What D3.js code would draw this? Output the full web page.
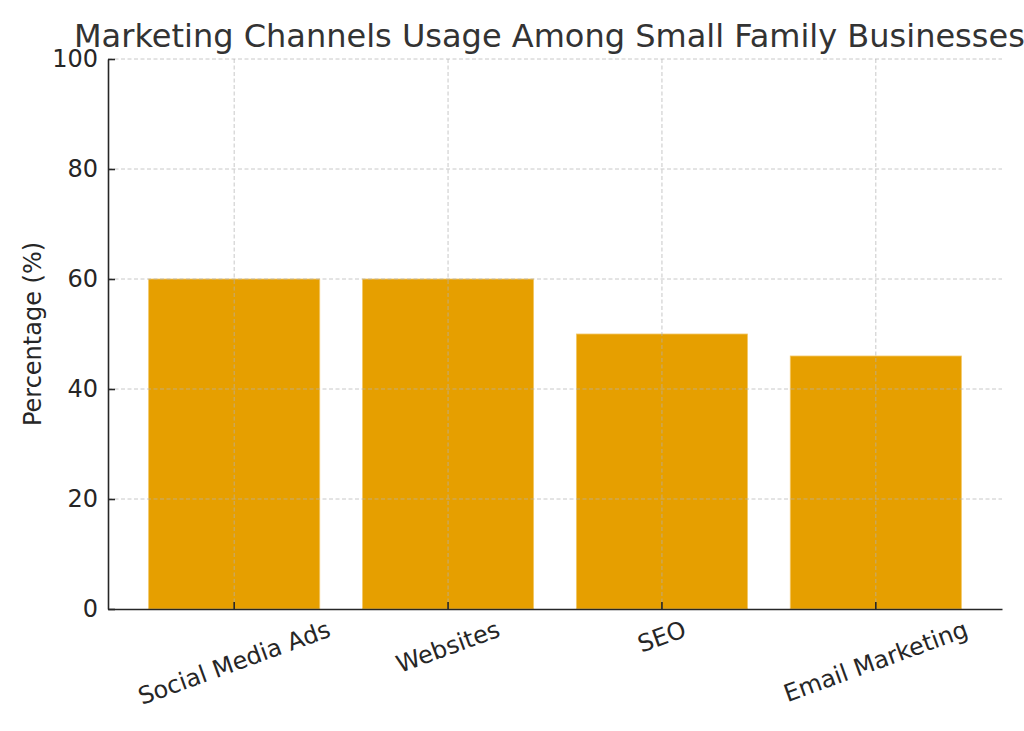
<!DOCTYPE html>
<html>
<head>
<meta charset="utf-8">
<script src="https://cdn.jsdelivr.net/npm/d3@7"></script>
<style>
  html, body { margin: 0; padding: 0; background: #fff; }
  svg { display: block; font-family: "DejaVu Sans", sans-serif; }
</style>
</head>
<body>
<svg id="chart" width="1024" height="731"></svg>
<script>
// chart data
const categories = ["Social Media Ads", "Websites", "SEO", "Email Marketing"];
const percentages = [60, 60, 50, 46];
const yTicks = [0, 20, 40, 60, 80, 100];
const titleText = "Marketing Channels Usage Among Small Family Businesses";
const yLabel = "Percentage (%)";

const width = 1024, height = 731;
const margin = { left: 108, right: 22, top: 59, bottom: 122 };
const innerW = width - margin.left - margin.right;
const innerH = height - margin.top - margin.bottom;
const fontSize = 24;

const svg = d3.select("#chart");

const x = d3.scaleBand()
    .domain(categories)
    .range([margin.left, margin.left + innerW])
    .paddingInner(0.2)
    .paddingOuter(0.19);

const y = d3.scaleLinear()
    .domain([0, 100])
    .range([margin.top + innerH, margin.top]);

// bars
svg.append("g").selectAll("rect")
    .data(categories)
    .enter()
    .append("rect")
    .attr("x", d => x(d))
    .attr("y", (d, i) => y(percentages[i]))
    .attr("width", x.bandwidth())
    .attr("height", (d, i) => y(0) - y(percentages[i]))
    .attr("fill", "#E69F00")
    .attr("stroke", "#f3c766")
    .attr("stroke-width", 0.8);

// grid (drawn over the bars, like the original)
const grid = svg.append("g")
    .attr("stroke", "#b0b0b0")
    .attr("stroke-opacity", 0.7)
    .attr("stroke-width", 1)
    .attr("stroke-dasharray", "4,2.5");

grid.selectAll("line.h")
    .data(yTicks.slice(1))
    .enter()
    .append("line")
    .attr("class", "h")
    .attr("x1", margin.left).attr("x2", margin.left + innerW)
    .attr("y1", d => y(d)).attr("y2", d => y(d));

grid.selectAll("line.v")
    .data(categories)
    .enter()
    .append("line")
    .attr("class", "v")
    .attr("x1", d => x(d) + x.bandwidth() / 2)
    .attr("x2", d => x(d) + x.bandwidth() / 2)
    .attr("y1", margin.top).attr("y2", margin.top + innerH);

// y axis (inward ticks)
const yAxis = svg.append("g")
    .attr("transform", `translate(${margin.left},0)`)
    .call(d3.axisLeft(y).tickValues(yTicks).tickSizeInner(-7).tickSizeOuter(0).tickPadding(10));
yAxis.select(".domain").attr("stroke", "#262626").attr("stroke-width", 1.6);
yAxis.selectAll(".tick line").attr("stroke", "#262626").attr("stroke-width", 1.6);
yAxis.selectAll(".tick text")
    .attr("font-size", fontSize)
    .attr("font-family", "DejaVu Sans, sans-serif")
    .attr("fill", "#262626");

// x axis (inward ticks, labels placed separately)
const xAxis = svg.append("g")
    .attr("transform", `translate(0,${margin.top + innerH})`)
    .call(d3.axisBottom(x).tickSizeInner(-7).tickSizeOuter(0).tickFormat(""));
xAxis.select(".domain").attr("stroke", "#262626").attr("stroke-width", 1.6);
xAxis.selectAll(".tick line").attr("stroke", "#262626").attr("stroke-width", 1.6);

// rotated category labels, centred on tick, top of rotated box below axis
const angle = 20 * Math.PI / 180;
const labelG = svg.append("g");
categories.forEach(c => {
    const t = labelG.append("text")
        .attr("font-size", fontSize)
        .attr("fill", "#262626")
        .attr("text-anchor", "middle")
        .attr("dominant-baseline", "central")
        .text(c);
    const w = t.node().getComputedTextLength();
    const h = fontSize * 1.1;
    const boxH = w * Math.sin(angle) + h * Math.cos(angle);
    const cx = x(c) + x.bandwidth() / 2;
    const cy = y(0) + 7 + boxH / 2;
    t.attr("transform", `translate(${cx},${cy}) rotate(-20)`);
});

// y label
svg.append("text")
    .attr("transform", `translate(33,${margin.top + innerH / 2}) rotate(-90)`)
    .attr("text-anchor", "middle")
    .attr("dominant-baseline", "central")
    .attr("font-size", fontSize)
    .attr("fill", "#262626")
    .text(yLabel);

// title
svg.append("text")
    .attr("x", 74)
    .attr("y", 47)
    .attr("font-size", 32)
    .attr("fill", "#333")
    .text(titleText);
</script>
</body>
</html>
